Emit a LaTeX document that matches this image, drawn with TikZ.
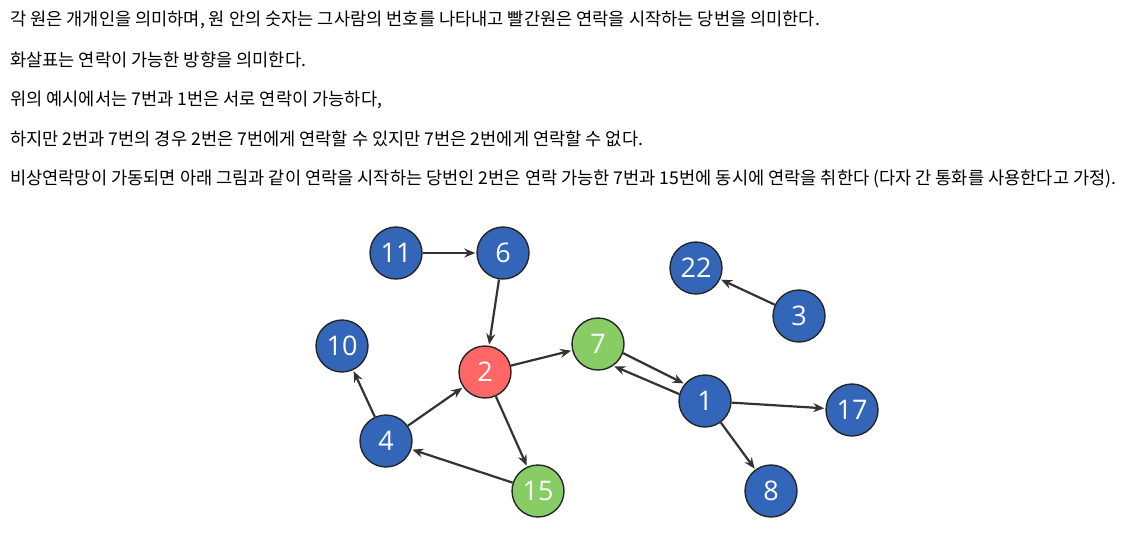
\documentclass[tikz,border=0pt]{standalone}
\usepackage{fontspec}
\setmainfont{Open Sans}
\newfontfamily\kr{Noto Sans CJK KR}
\usetikzlibrary{arrows.meta}
\definecolor{cblue}{HTML}{3366B8}
\definecolor{cred}{HTML}{FF6666}
\definecolor{cgreen}{HTML}{88CC66}
\tikzset{x=1pt,y=-1pt,
 person/.style={circle,draw=black!85,line width=1.4pt,minimum size=52pt,inner sep=0pt,text=white,font=\fontsize{27}{27}\selectfont},
 pb/.style={person,fill=cblue}, pr/.style={person,fill=cred}, pg/.style={person,fill=cgreen},
 line/.style={text=black,anchor=west,font=\kr\fontsize{17.6}{18}\selectfont,inner sep=0pt},
 arr/.style={-{Stealth[length=11pt,width=9pt]},line width=2.2pt,draw=black!80,shorten >=1pt}}
\begin{document}
\begin{tikzpicture}
\useasboundingbox (0,0) rectangle (1146,533);
\node[line] (t1) at (10,20) {각 원은 개개인을 의미하며, 원 안의 숫자는 그사람의 번호를 나타내고 빨간원은 연락을 시작하는 당번을 의미한다.};
\node[line] (t2) at (10,60) {화살표는 연락이 가능한 방향을 의미한다.};
\node[line] (t3) at (10,100) {위의 예시에서는 7번과 1번은 서로 연락이 가능하다,};
\node[line] (t4) at (10,139) {하지만 2번과 7번의 경우 2번은 7번에게 연락할 수 있지만 7번은 2번에게 연락할 수 없다.};
\node[line] (t5) at (10,179) {비상연락망이 가동되면 아래 그림과 같이 연락을 시작하는 당번인 2번은 연락 가능한 7번과 15번에 동시에 연락을 취한다 (다자 간 통화를 사용한다고 가정).};
\node[pb] (n11) at (396,253) {11};
\node[pb] (n6) at (503,253) {6};
\node[pb] (n22) at (696,268) {22};
\node[pb] (n3) at (799,316) {3};
\node[pb] (n10) at (342,346) {10};
\node[pr] (n2) at (485,372) {2};
\node[pg] (n7) at (598,344) {7};
\node[pb] (n1) at (705,401) {1};
\node[pb] (n17) at (852,410) {17};
\node[pb] (n4) at (386,441) {4};
\node[pg] (n15) at (538,491) {15};
\node[pb] (n8) at (771,491) {8};
\draw[arr] (n11) -- (n6);
\draw[arr] (n6) -- (n2);
\draw[arr] (n3) -- (n22);
\draw[arr] (n2) -- (n7);
\draw[arr] (n7.-20) -- (n1.140);
\draw[arr] (n1.165) -- (n7.-55);
\draw[arr] (n1) -- (n17);
\draw[arr] (n1) -- (n8);
\draw[arr] (n4) -- (n10);
\draw[arr] (n4) -- (n2);
\draw[arr] (n2) -- (n15);
\draw[arr] (n15) -- (n4);
\end{tikzpicture}
\end{document}
